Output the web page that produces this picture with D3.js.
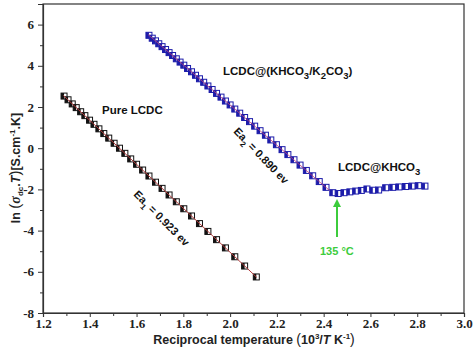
<!DOCTYPE html>
<html><head><meta charset="utf-8">
<script src="https://cdnjs.cloudflare.com/ajax/libs/d3/7.8.5/d3.min.js"></script>
<style>
html,body{margin:0;padding:0;background:#fff;}
svg{display:block;}
.tk text{font-family:"Liberation Serif","DejaVu Serif",serif !important;font-weight:bold;font-size:13px;}
</style></head>
<body>
<svg id="chart" width="474" height="356"></svg>
<script>
// ---------- data ----------
const xTicks = [1.2,1.4,1.6,1.8,2.0,2.2,2.4,2.6,2.8,3.0];
const xMinor = [1.3,1.5,1.7,1.9,2.1,2.3,2.5,2.7,2.9];
const yTicks = [-8,-6,-4,-2,0,2,4,6];
const yMinor = [-7,-5,-3,-1,1,3,5];

const pureX = [1.290,1.307,1.325,1.342,1.361,1.379,1.399,1.418,1.439,1.460,1.481,1.504,1.527,1.550,1.575,1.600,1.626,1.653,1.681,1.709,1.739,1.770,1.802,1.835,1.869,1.905,1.942,1.980,2.020,2.062,2.112];
const pureY = [2.53,2.35,2.15,1.97,1.77,1.58,1.36,1.16,0.94,0.71,0.49,0.24,0.00,-0.25,-0.52,-0.78,-1.06,-1.35,-1.65,-1.95,-2.27,-2.60,-2.94,-3.29,-3.66,-4.04,-4.44,-4.84,-5.27,-5.72,-6.25];

const compX = [1.653,1.667,1.681,1.695,1.709,1.724,1.739,1.754,1.770,1.786,1.802,1.818,1.835,1.852,1.869,1.887,1.905,1.923,1.942,1.961,1.980,2.000,2.020,2.041,2.062,2.083,2.105,2.128,2.151,2.174,2.198,2.222,2.247,2.273,2.299,2.326,2.353,2.381,2.410,2.439,2.462,2.487,2.512,2.537,2.561,2.585,2.610,2.635,2.665,2.695,2.722,2.750,2.778,2.805,2.833];
const compY = [5.48,5.34,5.21,5.07,4.93,4.79,4.64,4.50,4.34,4.18,4.03,3.87,3.71,3.54,3.37,3.20,3.02,2.85,2.66,2.48,2.29,2.10,1.90,1.70,1.49,1.29,1.07,0.85,0.63,0.40,0.17,-0.07,-0.31,-0.56,-0.82,-1.08,-1.34,-1.62,-1.90,-2.16,-2.20,-2.16,-2.12,-2.08,-2.05,-1.98,-2.04,-2.03,-1.92,-1.90,-1.88,-1.86,-1.84,-1.82,-1.84];

const fitPureX = [1.287, 2.114];
const fitPureY = [2.56, -6.27];
const fitCompX = [1.650, 2.425];
const fitCompY = [5.51, -2.05];

// ---------- layout ----------
const svg = d3.select("#chart");
const L = 43, R = 464, T = 4, B = 313;
const x = d3.scaleLinear().domain([1.2, 3.0]).range([L, R]);
const y = d3.scaleLinear().domain([-8, 7]).range([B, T]);

const serif = "'Liberation Serif','DejaVu Serif',serif";
const sans = "'Liberation Sans',Arial,sans-serif";

// frame
svg.append("rect").attr("x", L).attr("y", T).attr("width", R - L).attr("height", B - T)
  .attr("fill", "none").attr("stroke", "#333").attr("stroke-width", 1.2);

// x axis
const gx = svg.append("g").attr("class", "tk").attr("transform", `translate(0,${B})`)
  .call(d3.axisBottom(x).tickValues(xTicks).tickSize(4).tickPadding(2).tickFormat(d3.format(".1f")));
gx.attr("font-family", serif);
gx.select(".domain").attr("stroke", "#333").attr("stroke-width", 1.2);
gx.selectAll(".tick line").attr("stroke", "#333");
gx.selectAll("text").attr("fill", "#222");
svg.append("g").attr("transform", `translate(0,${B})`)
  .call(d3.axisBottom(x).tickValues(xMinor).tickSize(3).tickFormat(""))
  .call(g => { g.select(".domain").remove(); g.selectAll(".tick line").attr("stroke", "#333"); });

// y axis
const gy = svg.append("g").attr("class", "tk").attr("transform", `translate(${L},0)`)
  .call(d3.axisLeft(y).tickValues(yTicks).tickSize(5).tickPadding(4));
gy.attr("font-family", serif);
gy.select(".domain").attr("stroke", "#333").attr("stroke-width", 1.2);
gy.selectAll(".tick line").attr("stroke", "#333");
gy.selectAll("text").attr("fill", "#222").text(d => d < 0 ? "-" + Math.abs(d) : d);
svg.append("g").attr("transform", `translate(${L},0)`)
  .call(d3.axisLeft(y).tickValues(yMinor).tickSize(3).tickFormat(""))
  .call(g => { g.select(".domain").remove(); g.selectAll(".tick line").attr("stroke", "#333"); });

// axis titles
const xt = svg.append("text").attr("x", 254).attr("y", 344).attr("text-anchor", "middle")
  .attr("font-family", sans).attr("font-weight", "bold").attr("font-size", 12.5).attr("fill", "#222");
xt.append("tspan").text("Reciprocal temperature ");
xt.append("tspan").attr("font-size", 14).attr("font-weight", "normal").text("(");
xt.append("tspan").text("10");
xt.append("tspan").attr("font-size", 8).attr("dy", -5).text("3");
xt.append("tspan").attr("dy", 5).text("/");
xt.append("tspan").attr("font-style", "italic").text("T");
xt.append("tspan").text(" K");
xt.append("tspan").attr("font-size", 8).attr("dy", -5).text("-1");
xt.append("tspan").attr("dy", 5).attr("font-size", 14).attr("font-weight", "normal").text(")");

const yt = svg.append("text").attr("transform", "translate(20,168) rotate(-90)").attr("text-anchor", "middle")
  .attr("font-family", sans).attr("font-weight", "bold").attr("font-size", 12.5).attr("fill", "#222");
yt.append("tspan").text("ln ");
yt.append("tspan").attr("font-size", 15).attr("font-weight", "normal").text("(");
yt.append("tspan").attr("font-style", "italic").attr("font-family", serif).attr("font-size", 14).text("σ");
yt.append("tspan").attr("font-size", 8).attr("dy", 3).text("dc");
yt.append("tspan").attr("dy", -3).text(".");
yt.append("tspan").attr("font-style", "italic").text("T");
yt.append("tspan").attr("font-size", 15).attr("font-weight", "normal").text(")");
yt.append("tspan").text("[S.cm");
yt.append("tspan").attr("font-size", 8).attr("dy", -5).text("-1");
yt.append("tspan").attr("dy", 5).text(".K]");

// ---------- markers ----------
function drawMarkers(xs, ys, col) {
  const g = svg.append("g");
  const s = 6;
  const pts = xs.map((v, i) => [v, ys[i]]);
  const m = g.selectAll("g").data(pts).join("g")
    .attr("transform", d => `translate(${x(d[0]) - s / 2},${y(d[1]) - s / 2})`);
  m.append("rect").attr("width", s).attr("height", s).attr("fill", "#fff").attr("stroke", col).attr("stroke-width", 1);
  m.append("rect").attr("width", s / 2).attr("height", s).attr("fill", col);
}
const line = d3.line().x(d => x(d[0])).y(d => y(d[1]));

drawMarkers(pureX, pureY, "#111");
svg.append("path").datum(fitPureX.map((v, i) => [v, fitPureY[i]])).attr("d", line)
  .attr("fill", "none").attr("stroke", "#b03a3a").attr("stroke-width", 1);

drawMarkers(compX, compY, "#1c1caa");
svg.append("path").datum(fitCompX.map((v, i) => [v, fitCompY[i]])).attr("d", line)
  .attr("fill", "none").attr("stroke", "#c0407a").attr("stroke-width", 1).attr("opacity", 0.8);

// ---------- annotations ----------
const lab = (tx, ty, parts, opts = {}) => {
  const t = svg.append("text").attr("x", tx).attr("y", ty)
    .attr("font-family", sans).attr("font-weight", "bold").attr("font-size", opts.size || 11.5)
    .attr("fill", opts.fill || "#111");
  if (opts.transform) t.attr("transform", opts.transform).attr("x", 0).attr("y", 0);
  parts.forEach(p => {
    const s = t.append("tspan").text(p.t);
    if (p.dy) s.attr("dy", p.dy);
    if (p.size) s.attr("font-size", p.size);
  });
  return t;
};
lab(102, 114, [{t: "Pure LCDC"}]);
lab(223, 75, [{t: "LCDC@(KHCO"}, {t: "3", dy: 4, size: 9.5}, {t: "/K", dy: -4}, {t: "2", dy: 4, size: 9.5}, {t: "CO", dy: -4}, {t: "3", dy: 4, size: 9.5}, {t: ")", dy: -4}]);
lab(338, 171, [{t: "LCDC@KHCO"}, {t: "3", dy: 4, size: 9.5}]);
lab(0, 0, [{t: "Ea"}, {t: "1", dy: 4, size: 8}, {t: " = 0.923 ev", dy: -4}], {transform: "translate(133,195) rotate(45)", size: 11});
lab(0, 0, [{t: "Ea"}, {t: "2", dy: 4, size: 8}, {t: " = 0.890 ev", dy: -4}], {transform: "translate(233,132) rotate(46)", size: 11});

// green arrow at 135 °C
const arrowX = x(2.457);
svg.append("line").attr("x1", arrowX).attr("x2", arrowX).attr("y1", 237).attr("y2", 206)
  .attr("stroke", "#3ccc3c").attr("stroke-width", 2);
svg.append("path").attr("d", `M${arrowX - 4},${207} L${arrowX},${199} L${arrowX + 4},${207} Z`).attr("fill", "#3ccc3c");
lab(320, 255, [{t: "135 °C"}], {fill: "#3ccc3c", size: 11});
</script>
</body></html>
